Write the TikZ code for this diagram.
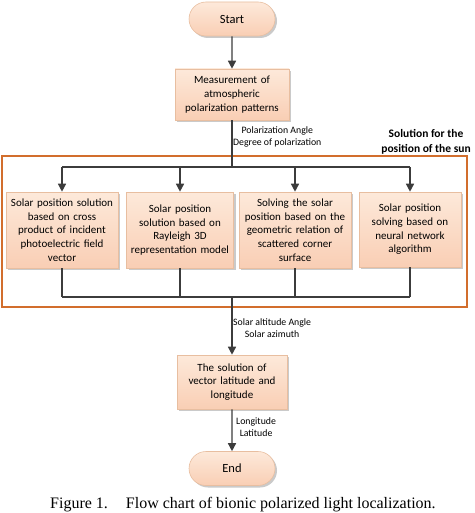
\documentclass[tikz,border=0pt]{standalone}
\usepackage{fontspec}
\setmainfont{Carlito}
\newfontfamily\capfont{Liberation Serif}
\usetikzlibrary{arrows.meta,shapes.misc,shadows,calc}
\definecolor{peachtop}{RGB}{253,233,218}
\definecolor{peachbot}{RGB}{249,206,180}
\definecolor{peachline}{RGB}{232,190,160}
\definecolor{framecol}{RGB}{210,110,45}
\definecolor{linecol}{RGB}{60,60,60}
\tikzset{
  flowbox/.style={draw=peachline, line width=0.6pt, top color=peachtop, bottom color=peachbot,
    align=center, font=\fontsize{11}{13.7}\selectfont, inner sep=2pt,
    drop shadow={shadow xshift=2pt, shadow yshift=-2pt, fill=black!35, opacity=0.6}},
  term/.style={flowbox, rounded rectangle, minimum width=90pt, minimum height=34pt, font=\fontsize{12.5}{14}\selectfont},
  conn/.style={draw=linecol, line width=1.4pt},
  arr/.style={conn, -{Triangle[length=8pt,width=8pt]}},
  lbl/.style={font=\fontsize{9.8}{12.6}\selectfont, align=center, inner sep=0pt}
}
\begin{document}
\begin{tikzpicture}[x=1pt,y=-1pt]
\useasboundingbox (0,0) rectangle (474,513);
% nodes
\node[term] (start) at (232,19) {Start};
\node[flowbox, minimum width=114pt, minimum height=51pt, text width=110pt] (meas) at (232,94.5) {Measurement of\\atmospheric\\polarization patterns};
\node[flowbox, minimum width=110pt, minimum height=76pt, text width=108pt] (b1) at (62,230) {Solar position solution\\based on cross\\product of incident\\photoelectric field\\vector};
\node[flowbox, minimum width=105pt, minimum height=76pt, text width=103pt] (b2) at (180,230) {Solar position\\solution based on\\Rayleigh 3D\\representation model};
\node[flowbox, minimum width=110pt, minimum height=76pt, text width=108pt] (b3) at (295,230) {Solving the solar\\position based on the\\geometric relation of\\scattered corner\\surface};
\node[flowbox, minimum width=100pt, minimum height=75pt, text width=98pt] (b4) at (410,229.5) {Solar position\\solving based on\\neural network\\algorithm};
\node[flowbox, minimum width=108pt, minimum height=54pt, text width=106pt] (res) at (232,382) {The solution of\\vector latitude and\\longitude};
\node[term] (end) at (232,468.5) {End};
% frame
\draw[framecol, line width=1.8pt] (2,156) rectangle (467,307);
\node[font=\bfseries\fontsize{11.5}{15}\selectfont, align=center] (sol) at (426,142) {Solution for the\\position of the sun};
% coordinates
\coordinate (top) at (232,167);
\coordinate (bot) at (232,297);
% connectors
\draw[arr] (start) -- (meas);
\draw[conn] (meas) -- (top);
\draw[conn] (b1.north |- top) -- (b4.north |- top);
\foreach \b in {b1,b2,b3,b4} {
  \draw[arr] (\b.north |- top) -- (\b.north);
  \draw[conn] (\b.south) -- (\b.south |- bot);
}
\draw[conn] (b1.south |- bot) -- (b4.south |- bot);
\draw[arr] (bot) -- (res);
\draw[arr] (res) -- (end);
% labels
\node[lbl, anchor=north west] (l1) at (233,126) {Polarization Angle\\Degree of polarization};
\node[lbl, anchor=north west] (l2) at (233,318) {Solar altitude Angle\\Solar azimuth};
\node[lbl, anchor=north west] (l3) at (236,417) {Longitude\\Latitude};
% caption
\node[font=\capfont\fontsize{16}{18}\selectfont, anchor=base west, inner sep=0pt] (cap) at (50,508.5) {Figure 1.\hspace{18pt}Flow chart of bionic polarized light localization.};
\end{tikzpicture}
\end{document}
